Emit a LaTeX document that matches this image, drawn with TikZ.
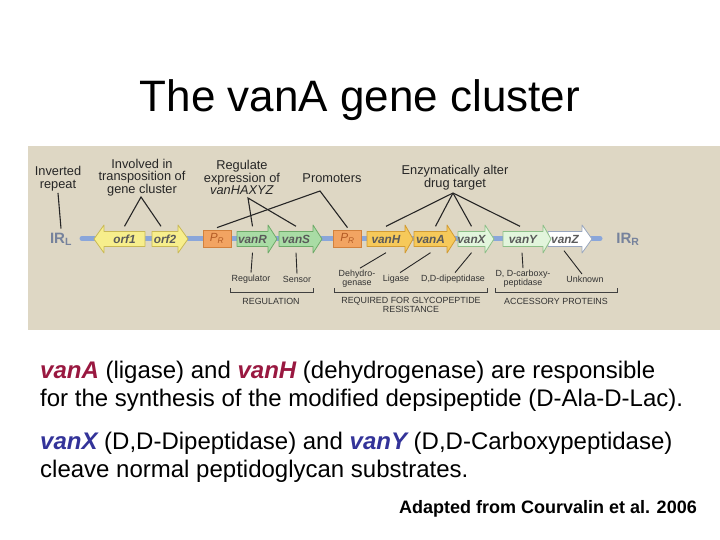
\documentclass[tikz,border=0pt]{standalone}
\usepackage{fontspec}
\setmainfont{Liberation Sans}
\definecolor{panel}{HTML}{DED7C4}
\definecolor{backbone}{HTML}{8AA6DA}
\definecolor{irc}{HTML}{76829C}
\definecolor{orffill}{HTML}{F7EE8C}
\definecolor{orfedge}{HTML}{C9B955}
\definecolor{prfill}{HTML}{F2A462}
\definecolor{predge}{HTML}{D3813C}
\definecolor{prtext}{HTML}{B25A24}
\definecolor{rsfill}{HTML}{A9DCA5}
\definecolor{rsedge}{HTML}{6DAA68}
\definecolor{hafill}{HTML}{F6C95A}
\definecolor{haedge}{HTML}{D29B32}
\definecolor{xyfill}{HTML}{E2F5DC}
\definecolor{xyedge}{HTML}{8DBF88}
\definecolor{zedge}{HTML}{98A6BE}
\definecolor{gtext}{HTML}{5A5A5A}
\definecolor{vred}{HTML}{991840}
\definecolor{vblue}{HTML}{333399}
% name, tail x, head-base x, tip x, fill, edge, text colour, label
\newcommand{\genearrow}[8]{%
  \filldraw[fill=#5, draw=#6, line width=0.8pt, line join=round]
    (#2,231.5) -- (#3,231.5) -- (#3,225) -- (#4,239) -- (#3,253) -- (#3,246.5) -- (#2,246.5) -- cycle;
  \path (#2,239) -- node[genetxt, text=#7, minimum width={abs(#3-#2)}] (#1) {#8} (#3,239);
}
\begin{document}
\begin{tikzpicture}[x=1pt,y=-1pt,
  lbl/.style={font=\fontsize{12.8}{12.6}\selectfont, align=center, text=black!85, inner sep=0pt},
  sml/.style={font=\fontsize{8.9}{9}\selectfont, align=center, text=black!80, inner sep=0pt},
  conn/.style={draw=black!85, line width=1.1pt},
  brk/.style={draw=black!75, line width=0.8pt},
  genetxt/.style={font=\fontsize{11.8}{12}\selectfont\bfseries\itshape, inner sep=0pt, minimum height=15pt},
  prbox/.style={draw=predge, fill=prfill, line width=0.8pt, minimum width=28pt, minimum height=17pt, inner sep=0pt,
    font=\fontsize{11.8}{12}\selectfont\itshape, text=prtext},
  irtxt/.style={font=\fontsize{15}{16}\selectfont\bfseries, text=irc, inner sep=0pt},
  para/.style={font=\fontsize{24}{28}\selectfont, inner sep=0pt, anchor=base west},
]
\useasboundingbox (0,0) rectangle (720,540);
\fill[white] (0,0) rectangle (720,540);
\fill[panel] (28,146) rectangle (720,330);

% title
\node[font=\fontsize{44}{48}\selectfont, anchor=base, inner sep=0pt] (title) at (360,112) {The vanA gene cluster};

% backbone
\draw[backbone, line width=5pt, line cap=round] (82,238.5) -- (600,238.5);
\node[irtxt] (irl) at (61,239) {IR\textsubscript{L}};
\node[irtxt] (irr) at (628,239) {IR\textsubscript{R}};

% genes
\genearrow{orf1}{145}{104}{94}{orffill}{orfedge}{gtext}{orf1}
\genearrow{orf2}{152}{178}{188}{orffill}{orfedge}{gtext}{orf2}
\node[prbox] (pr1) at (217,238.5) {P\textsubscript{R}};
\genearrow{vanR}{237}{268}{277}{rsfill}{rsedge}{gtext}{vanR}
\genearrow{vanS}{279}{313}{322}{rsfill}{rsedge}{gtext}{vanS}
\node[prbox] (pr2) at (347.5,238.5) {P\textsubscript{R}};
\genearrow{vanH}{367}{405}{413}{hafill}{haedge}{gtext}{vanH}
\genearrow{vanA}{414}{447}{456}{hafill}{haedge}{gtext}{vanA}
\genearrow{vanX}{458}{485}{494}{xyfill}{xyedge}{gtext}{vanX}
\genearrow{vanZ}{548}{582}{592}{white}{zedge}{gtext}{vanZ}
\genearrow{vanY}{503}{543}{551}{xyfill}{xyedge}{gtext}{vanY}

% top labels
\node[lbl] (tinv) at (58,178.5) {Inverted\\repeat};
\node[lbl] (ttrans) at (142,177.5) {Involved in\\transposition of\\gene cluster};
\node[lbl] (treg) at (242,177.5) {Regulate\\expression of\\\textit{vanHAXYZ}};
\node[lbl] (tprom) at (332,178) {Promoters};
\node[lbl] (tenz) at (455,177.5) {Enzymatically alter\\drug target};

\coordinate (ptrans) at (141,197);
\coordinate (preg) at (248,198);
\coordinate (pprom) at (320,191);
\coordinate (penz) at (453,193);

\draw[conn] ([yshift=-2pt]tinv.south) -- ([yshift=4pt]irl.north);
\draw[conn] ([yshift=5pt]orf1.north) -- (ptrans) -- ([xshift=-4pt,yshift=5pt]orf2.north);
\draw[conn] ([yshift=5pt]vanR.north) -- (preg) -- ([yshift=5pt]vanS.north);
\draw[conn] ([yshift=2pt]pr1.north) -- (pprom) -- ([yshift=2pt]pr2.north);
\draw[conn] ([yshift=5pt]vanH.north) -- (penz);
\draw[conn] ([xshift=5pt,yshift=5pt]vanA.north) -- (penz);
\draw[conn] ([yshift=5pt]vanX.north) -- (penz);
\draw[conn] ([xshift=-3pt,yshift=5pt]vanY.north) -- (penz);

% bottom labels
\node[sml] (lreg) at (251,279) {Regulator};
\node[sml] (lsen) at (297,279) {Sensor};
\node[sml] (ldeh) at (357,279) {Dehydro-\\genase};
\node[sml] (llig) at (396,279) {Ligase};
\node[sml] (ldd) at (453,279) {D,D-dipeptidase};
\node[sml] (lcarb) at (523,279) {D, D-carboxy-\\peptidase};
\node[sml] (lunk) at (585,279.5) {Unknown};

\draw[conn, line width=0.9pt] ([yshift=-6pt]vanR.south) -- ([yshift=2pt]lreg.north);
\draw[conn, line width=0.9pt] ([yshift=-6pt]vanS.south) -- ([yshift=2pt]lsen.north);
\draw[conn, line width=0.9pt] ([yshift=-6pt]vanH.south) -- ([xshift=3pt,yshift=2pt]ldeh.north);
\draw[conn, line width=0.9pt] ([yshift=-6pt]vanA.south) -- ([xshift=4pt,yshift=2pt]llig.north);
\draw[conn, line width=0.9pt] ([yshift=-6pt]vanX.south) -- ([xshift=2pt,yshift=2pt]ldd.north);
\draw[conn, line width=0.9pt] ([xshift=-1pt,yshift=-6pt]vanY.south) -- ([yshift=2pt]lcarb.north);
\draw[conn, line width=0.9pt] ([xshift=-1pt,yshift=-4pt]vanZ.south) -- ([xshift=-3pt,yshift=2pt]lunk.north);

% brackets
\draw[brk] (230,288) -- (230,292) -- (313,292) -- (313,288);
\draw[brk] (334,288) -- (334,292) -- (487,292) -- (487,288);
\draw[brk] (495,288) -- (495,292) -- (617,292) -- (617,288);
\node[sml] (lregul) at (271,301) {REGULATION};
\node[sml, anchor=north] (lreq) at (411,297) {REQUIRED FOR GLYCOPEPTIDE\\RESISTANCE};
\node[sml] (lacc) at (556,301) {ACCESSORY PROTEINS};

% text
\node[para] (p1) at (40,378) {\textcolor{vred}{\bfseries\itshape vanA} (ligase) and \textcolor{vred}{\bfseries\itshape vanH} (dehydrogenase) are responsible};
\node[para] (p2) at (40,406) {for the synthesis of the modified depsipeptide (D-Ala-D-Lac).};
\node[para] (p3) at (40,449) {\textcolor{vblue}{\bfseries\itshape vanX} (D,D-Dipeptidase) and \textcolor{vblue}{\bfseries\itshape vanY} (D,D-Carboxypeptidase)};
\node[para] (p4) at (40,477) {cleave normal peptidoglycan substrates.};
\node[font=\fontsize{18}{20}\selectfont\bfseries, anchor=base east, inner sep=0pt] (src) at (697,513) {Adapted from Courvalin et al. 2006};
\end{tikzpicture}
\end{document}
